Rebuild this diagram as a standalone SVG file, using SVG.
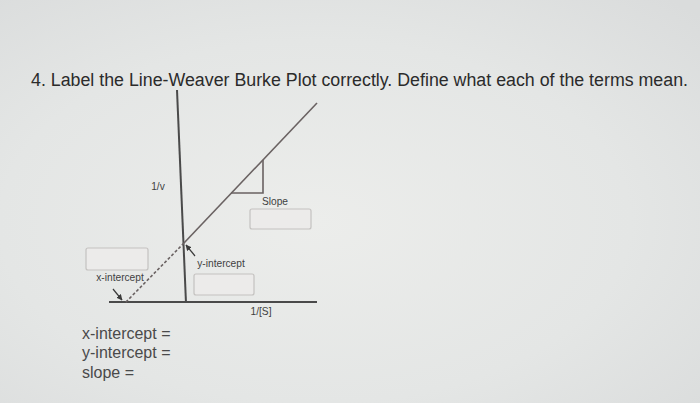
<svg xmlns="http://www.w3.org/2000/svg" width="700" height="403" viewBox="0 0 700 403">
<defs>
<radialGradient id="bg" cx="0.45" cy="0.55" r="0.75">
<stop offset="0" stop-color="#ecedeb"/>
<stop offset="0.6" stop-color="#e4e6e5"/>
<stop offset="1" stop-color="#dadcdc"/>
</radialGradient>
<marker id="ah" viewBox="0 0 10 10" refX="9" refY="5" markerWidth="5" markerHeight="5" orient="auto">
<path d="M0,0 L10,5 L0,10 z" fill="#3a3a3a"/>
</marker>
<style>
.title{font-family:"Liberation Sans",Arial,sans-serif;font-size:18px;fill:#2b2b2b}
.lbl{font-family:"Liberation Sans",Arial,sans-serif;font-size:10.2px;fill:#3f3f3f}
.eq{font-family:"Liberation Sans",Arial,sans-serif;font-size:16px;fill:#4a4a4a}
.ax{stroke:#4a4a4a;stroke-width:2;fill:none}
.ln{stroke:#6a6262;stroke-width:1.6;fill:none}
.box{fill:#ecebea;stroke:#c4c2c0;stroke-width:1.2}
</style>
</defs>
<rect width="700" height="403" fill="url(#bg)"/>
<text class="title" x="31" y="86" textLength="657" lengthAdjust="spacingAndGlyphs">4. Label the Line-Weaver Burke Plot correctly. Define what each of the terms mean.</text>
<g id="connectors">
<path class="ax" d="M177,90 L186,303"/>
<path class="ax" d="M109,302 L317,302"/>
<path class="ln" d="M184,243 L317,103"/>
<path class="ln" d="M231,193 L263,193 L263,160"/>
<path class="ln" d="M184,243 L125,303" stroke-dasharray="3,2"/>
<path d="M113,289 L122,300" stroke="#3a3a3a" stroke-width="1.2" marker-end="url(#ah)"/>
<path d="M195,256 L186,245" stroke="#3a3a3a" stroke-width="1.2" marker-end="url(#ah)"/>
</g>
<g id="yaxis-label"><text class="lbl" x="158" y="190" text-anchor="middle">1/v</text></g>
<g id="xaxis-label"><text class="lbl" x="261" y="315" text-anchor="middle">1/[S]</text></g>
<g id="slope"><text class="lbl" x="275" y="205" text-anchor="middle">Slope</text><rect class="box" x="250" y="209" width="61" height="20" rx="2"/></g>
<g id="x-intercept"><rect class="box" x="86" y="248" width="62" height="22" rx="2"/><text class="lbl" x="120" y="281" text-anchor="middle">x-intercept</text></g>
<g id="y-intercept"><text class="lbl" x="221" y="267" text-anchor="middle">y-intercept</text><rect class="box" x="194" y="274" width="60" height="21" rx="2"/></g>
<g id="equations">
<text class="eq" x="82" y="339">x-intercept =</text>
<text class="eq" x="82" y="358">y-intercept =</text>
<text class="eq" x="82" y="378">slope =</text>
</g>
</svg>
